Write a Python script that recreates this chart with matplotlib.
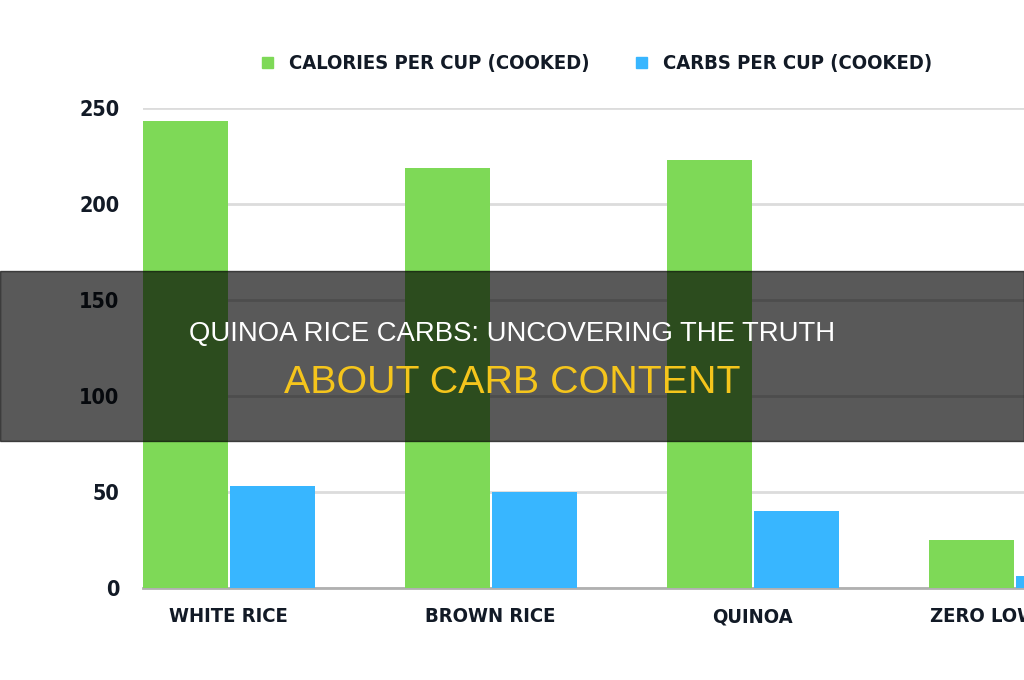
import numpy as np
import matplotlib.pyplot as plt

# values
categories = ['WHITE RICE', 'BROWN RICE', 'QUINOA', 'ZERO LOW CARB']
calories = [243, 219, 223, 25]
carbs = [53, 50, 40, 6]
yticks = [0, 50, 100, 150, 200, 250]

green = '#7ed957'
blue = '#38b6ff'
ink = '#121a26'
lab_font = dict(family='DejaVu Sans', fontweight='bold', fontstretch='condensed', color=ink)

fig = plt.figure(figsize=(10.24, 6.8), dpi=100)
ax = fig.add_axes([143/1024, 92/680, 881/1024, 480/680])

x = np.arange(len(categories))
w = 0.325
ax.bar(x - w/2, calories, width=w, color=green, zorder=3)
ax.bar(x + w/2 + 0.008, carbs, width=w, color=blue, zorder=3)

ax.set_xlim(-w, -w + 881/262)
ax.set_ylim(0, 250)
ax.set_yticks(yticks)
ax.set_xticks(x)
ax.set_xticklabels(categories, fontsize=14.5, **lab_font)
ax.set_yticklabels([str(t) for t in yticks], fontsize=15.5, **lab_font)
ax.tick_params(length=0)
ax.tick_params(axis='y', pad=17)
ax.tick_params(axis='x', pad=14)
ax.yaxis.grid(True, color='#dcdcdc', linewidth=2, zorder=0)
ax.xaxis.grid(False)
for s in ['top', 'right', 'left']:
    ax.spines[s].set_visible(False)
ax.spines['bottom'].set_color('#b0b0b0')
ax.spines['bottom'].set_linewidth(2)
ax.spines['bottom'].set_clip_on(False)

# legend drawn as figure patches + text
fig.patches.append(plt.Rectangle((262/1024, 1 - 68/680), 11/1024, 11/680,
                                 transform=fig.transFigure, color=green))
fig.text(289/1024, 1 - 63/680, 'CALORIES PER CUP (COOKED)', fontsize=14.5,
         va='center', ha='left', **lab_font)
fig.patches.append(plt.Rectangle((636/1024, 1 - 68/680), 11/1024, 11/680,
                                 transform=fig.transFigure, color=blue))
fig.text(663/1024, 1 - 63/680, 'CARBS PER CUP (COOKED)', fontsize=14.5,
         va='center', ha='left', **lab_font)

# dark title band
fig.patches.append(plt.Rectangle((0, 1 - 441/680), 1, 170/680,
                                 transform=fig.transFigure, color='black',
                                 alpha=0.65, zorder=10))
fig.text(0.5, 1 - 334/680, 'QUINOA RICE CARBS: UNCOVERING THE TRUTH',
         fontsize=19.8, color='white', ha='center', va='center',
         family='Liberation Sans', zorder=11)
fig.text(0.5, 1 - 383/680, 'ABOUT CARB CONTENT', fontsize=28.4,
         color='#f5c51c', ha='center', va='center', family='Liberation Sans', zorder=11)

fig.savefig('out.png', dpi=100)
